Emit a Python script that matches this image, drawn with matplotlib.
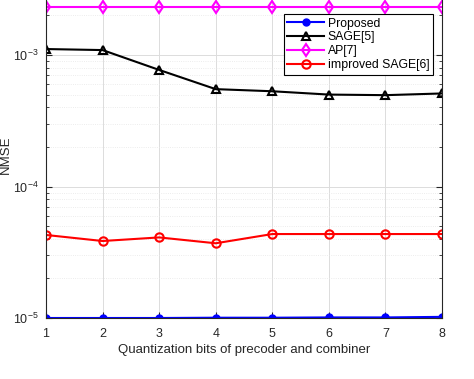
import numpy as np
import matplotlib
matplotlib.use("Agg")
import matplotlib.pyplot as plt

plt.rcParams['font.family'] = ['Liberation Sans', 'DejaVu Sans']

bits = [1, 2, 3, 4, 5, 6, 7, 8]
proposed = [1.0e-5, 1.0e-5, 1.0e-5, 1.005e-5, 1.005e-5, 1.01e-5, 1.01e-5, 1.02e-5]
sage5 = [1.11e-3, 1.09e-3, 7.7e-4, 5.5e-4, 5.3e-4, 5.0e-4, 4.95e-4, 5.1e-4]
ap7 = [2.32e-3, 2.32e-3, 2.32e-3, 2.32e-3, 2.32e-3, 2.32e-3, 2.32e-3, 2.32e-3]
isage6 = [4.28e-5, 3.85e-5, 4.1e-5, 3.7e-5, 4.35e-5, 4.35e-5, 4.35e-5, 4.35e-5]

fig = plt.figure(figsize=(4.74, 3.79), dpi=100)
# axes top runs past the image edge, like the cropped original
ax = fig.add_axes([46/474, 1 - 318/379, 396/474, 318/379 + 0.02])

ax.plot(bits, proposed, color="blue", marker="o", markersize=5, linewidth=1.5, label="Proposed")
ax.plot(bits, sage5, color="black", marker="^", markersize=6, markerfacecolor="none",
        markeredgewidth=1.5, linewidth=1.5, label="SAGE[5]")
ax.plot(bits, ap7, color="magenta", marker="d", markersize=6, markerfacecolor="none",
        markeredgewidth=1.5, linewidth=1.5, label="AP[7]")
ax.plot(bits, isage6, color="red", marker="o", markersize=6, markerfacecolor="none",
        markeredgewidth=1.5, linewidth=1.5, label="improved SAGE[6]")

ax.set_yscale("log")
ax.set_xlim(1, 8)
top = 10 ** (-5 + (318 + 0.02 * 379) / 131.5)
ax.set_ylim(1e-5, top)
ax.set_xticks(bits)
ax.set_yticks([1e-5, 1e-4, 1e-3])
ax.tick_params(which="both", direction="in", top=False, right=True, labelsize=9, colors="#262626")
ax.tick_params(which="major", length=4)
ax.tick_params(axis="x", pad=7)
ax.tick_params(axis="y", pad=5)
ax.tick_params(which="minor", length=2)
ax.grid(True, which="major", color="#dcdcdc", linewidth=0.7)
ax.grid(True, which="minor", axis="y", color="#e6e6e6", linewidth=0.6, linestyle=":")
for s in ax.spines.values():
    s.set_color("#262626")
    s.set_linewidth(0.8)

ax.set_xlabel("Quantization bits of precoder and combiner", fontsize=9.5, color="#262626", labelpad=3)
ax.set_ylabel("NMSE", fontsize=9.5, color="#262626", labelpad=1)

leg = ax.legend(loc="upper right", bbox_to_anchor=(433/474, 1 - 14/379), bbox_transform=fig.transFigure,
                borderaxespad=0, fontsize=8.8, fancybox=False, edgecolor="black", framealpha=1,
                borderpad=0.3, labelspacing=0.15, handlelength=3.0, handletextpad=0.3)
leg.get_frame().set_linewidth(0.8)

plt.savefig("out.png", dpi=100)
